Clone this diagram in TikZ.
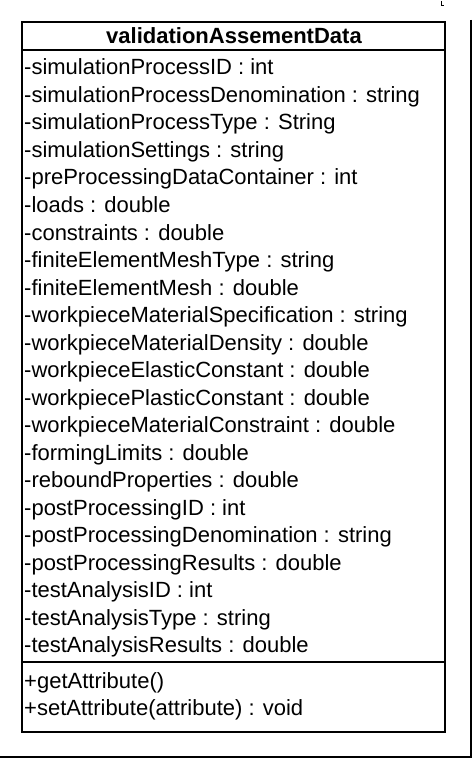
\documentclass[tikz,border=0pt]{standalone}
\usepackage{fontspec}
\setmainfont{Liberation Sans}
\begin{document}
\begin{tikzpicture}[x=1pt,y=-1pt,
  attr/.style={anchor=base west,inner sep=0pt,font=\fontsize{22}{22}\selectfont},
  title/.style={anchor=base,inner sep=0pt,font=\fontsize{22}{22}\selectfont\bfseries},
  frame/.style={line width=1.6pt}]
\useasboundingbox (0,0) rectangle (474,759);
\draw[frame] (22,22) rectangle (445,732);
\draw[frame] (22,50) -- (445,50);
\draw[frame] (22,662) -- (445,662);
\draw[line width=2.5pt] (471,20) -- (471,757) -- (0,757);
\draw[line width=1pt] (441,1) -- (441,6) -- (444,6);
\node[title] (t) at (234,43.5) {validationAssementData};
\foreach \txt [count=\i] in {
 {-simulationProcessID : int},
 {-simulationProcessDenomination : string},
 {-simulationProcessType : String},
 {-simulationSettings : string},
 {-preProcessingDataContainer : int},
 {-loads : double},
 {-constraints : double},
 {-finiteElementMeshType : string},
 {-finiteElementMesh : double},
 {-workpieceMaterialSpecification : string},
 {-workpieceMaterialDensity : double},
 {-workpieceElasticConstant : double},
 {-workpiecePlasticConstant : double},
 {-workpieceMaterialConstraint : double},
 {-formingLimits : double},
 {-reboundProperties : double},
 {-postProcessingID : int},
 {-postProcessingDenomination : string},
 {-postProcessingResults : double},
 {-testAnalysisID : int},
 {-testAnalysisType : string},
 {-testAnalysisResults : double}}
 \node[attr] (a\i) at (24,{75+(\i-1)*27.5}) {\txt};
\node[attr] (m1) at (24,688) {+getAttribute()};
\node[attr] (m2) at (24,715) {+setAttribute(attribute) : void};
\end{tikzpicture}
\end{document}
